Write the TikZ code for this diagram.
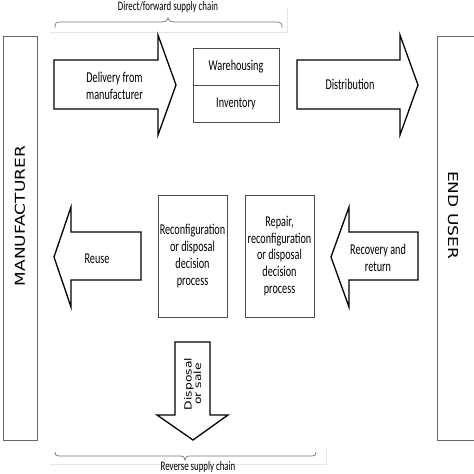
\documentclass[tikz,border=0pt]{standalone}
\usepackage{fontspec}
\newfontfamily\calfont[FakeStretch=0.68]{Carlito}
\newfontfamily\dvfont{DejaVu Sans}
\begin{document}
\begin{tikzpicture}[x=1pt,y=-1pt,
  arrowshape/.style={draw=black, line width=1.3pt, fill=white, line join=miter},
  boxshape/.style={draw=black!70, line width=0.8pt, inner sep=0pt},
  lbl/.style={font=\calfont\fontsize{15}{16.7}\selectfont, align=center, inner sep=0pt},
  bracelbl/.style={font=\calfont\fontsize{13}{15}\selectfont, inner sep=0pt},
  barshape/.style={draw=black!60, line width=0.9pt, inner sep=0pt},
  bigsans/.style={inner sep=0pt, rotate=#1},
  bracestyle/.style={draw=black!55, line width=0.7pt},
  faint/.style={draw=black!10, line width=0.8pt}]
\useasboundingbox (0,0) rectangle (474,474);

% faint text-box edges
\draw[faint] (50,32) -- (287,32) -- (287,8);
\draw[faint] (50,464) -- (326,464) -- (326,448);

% side bars
\node[barshape, minimum width=34pt, minimum height=404pt] (manubar) at (20,238) {};
\node[barshape, minimum width=42pt, minimum height=404pt] (userbar) at (458,238) {};
\node[bigsans=90] (manu) at (20,216) {\scalebox{1}[0.8]{\dvfont\fontsize{17}{20}\selectfont MANUFACTURER}};
\node[bigsans=-90] (user) at (453,215) {\scalebox{1}[0.8]{\dvfont\fontsize{17}{20}\selectfont END USER}};

% forward arrows
\draw[arrowshape] (54,60) -- (158,60) -- (158,35) -- (176,85) -- (158,135) -- (158,109) -- (54,109) -- cycle;
\node[lbl] (deliv) at (114.5,86) {Delivery from\\manufacturer};
\draw[arrowshape] (297,60) -- (400,60) -- (400,35) -- (418,85) -- (400,135) -- (400,109) -- (297,109) -- cycle;
\node[lbl] (distr) at (350,84) {Distribution};

% warehouse box
\node[boxshape, lbl, minimum width=86pt, minimum height=37pt] (ware) at (236,66.5) {Warehousing};
\node[boxshape, lbl, minimum width=86pt, minimum height=37pt] (inv) at (236,103.5) {Inventory};

% reverse arrows
\draw[arrowshape] (141,232) -- (71,232) -- (71,207) -- (54,257) -- (71,307) -- (71,280) -- (141,280) -- cycle;
\node[lbl] (reuse) at (97,259) {Reuse};
\draw[arrowshape] (418,232) -- (349,232) -- (349,207) -- (331,257) -- (349,307) -- (349,280) -- (418,280) -- cycle;
\node[lbl] (recov) at (378,258) {Recovery and\\return};

% decision boxes
\node[boxshape, lbl, minimum width=69pt, minimum height=122pt] (recon) at (192.5,256) {Reconfiguration\\or disposal\\decision\\process};
\node[boxshape, lbl, minimum width=69pt, minimum height=122pt] (repair) at (279.5,256) {Repair,\\reconfiguration\\or disposal\\decision\\process};

% disposal arrow
\draw[arrowshape] (175,342) -- (210,342) -- (210,415) -- (228,415) -- (193,440) -- (157,415) -- (175,415) -- cycle;
\node[bigsans=90, align=center] (disp) at (194,384) {\scalebox{1}[0.8]{\dvfont\fontsize{12.3}{15}\selectfont\begin{tabular}{@{}c@{}}Disposal\\[-3pt]or sale\end{tabular}}};

% braces
\draw[bracestyle] (55,28) .. controls (55,23) and (56,22) .. (60,22) -- (163,22) .. controls (166,22) and (168,20) .. (168,18) .. controls (168,20) and (170,22) .. (173,22) -- (278,22) .. controls (281,22) and (282,23) .. (282,28);
\node[bracelbl, anchor=base] (fwd) at (168,10) {Direct/forward supply chain};
\draw[bracestyle] (55,452) .. controls (55,455) and (56,456) .. (59,456) -- (181,456) .. controls (183,456) and (185,457) .. (185,460) .. controls (185,457) and (187,456) .. (189,456) -- (312,456) .. controls (315,456) and (316,455) .. (316,452);
\node[bracelbl, anchor=base] (rev) at (198,470.5) {Reverse supply chain};
\end{tikzpicture}
\end{document}
